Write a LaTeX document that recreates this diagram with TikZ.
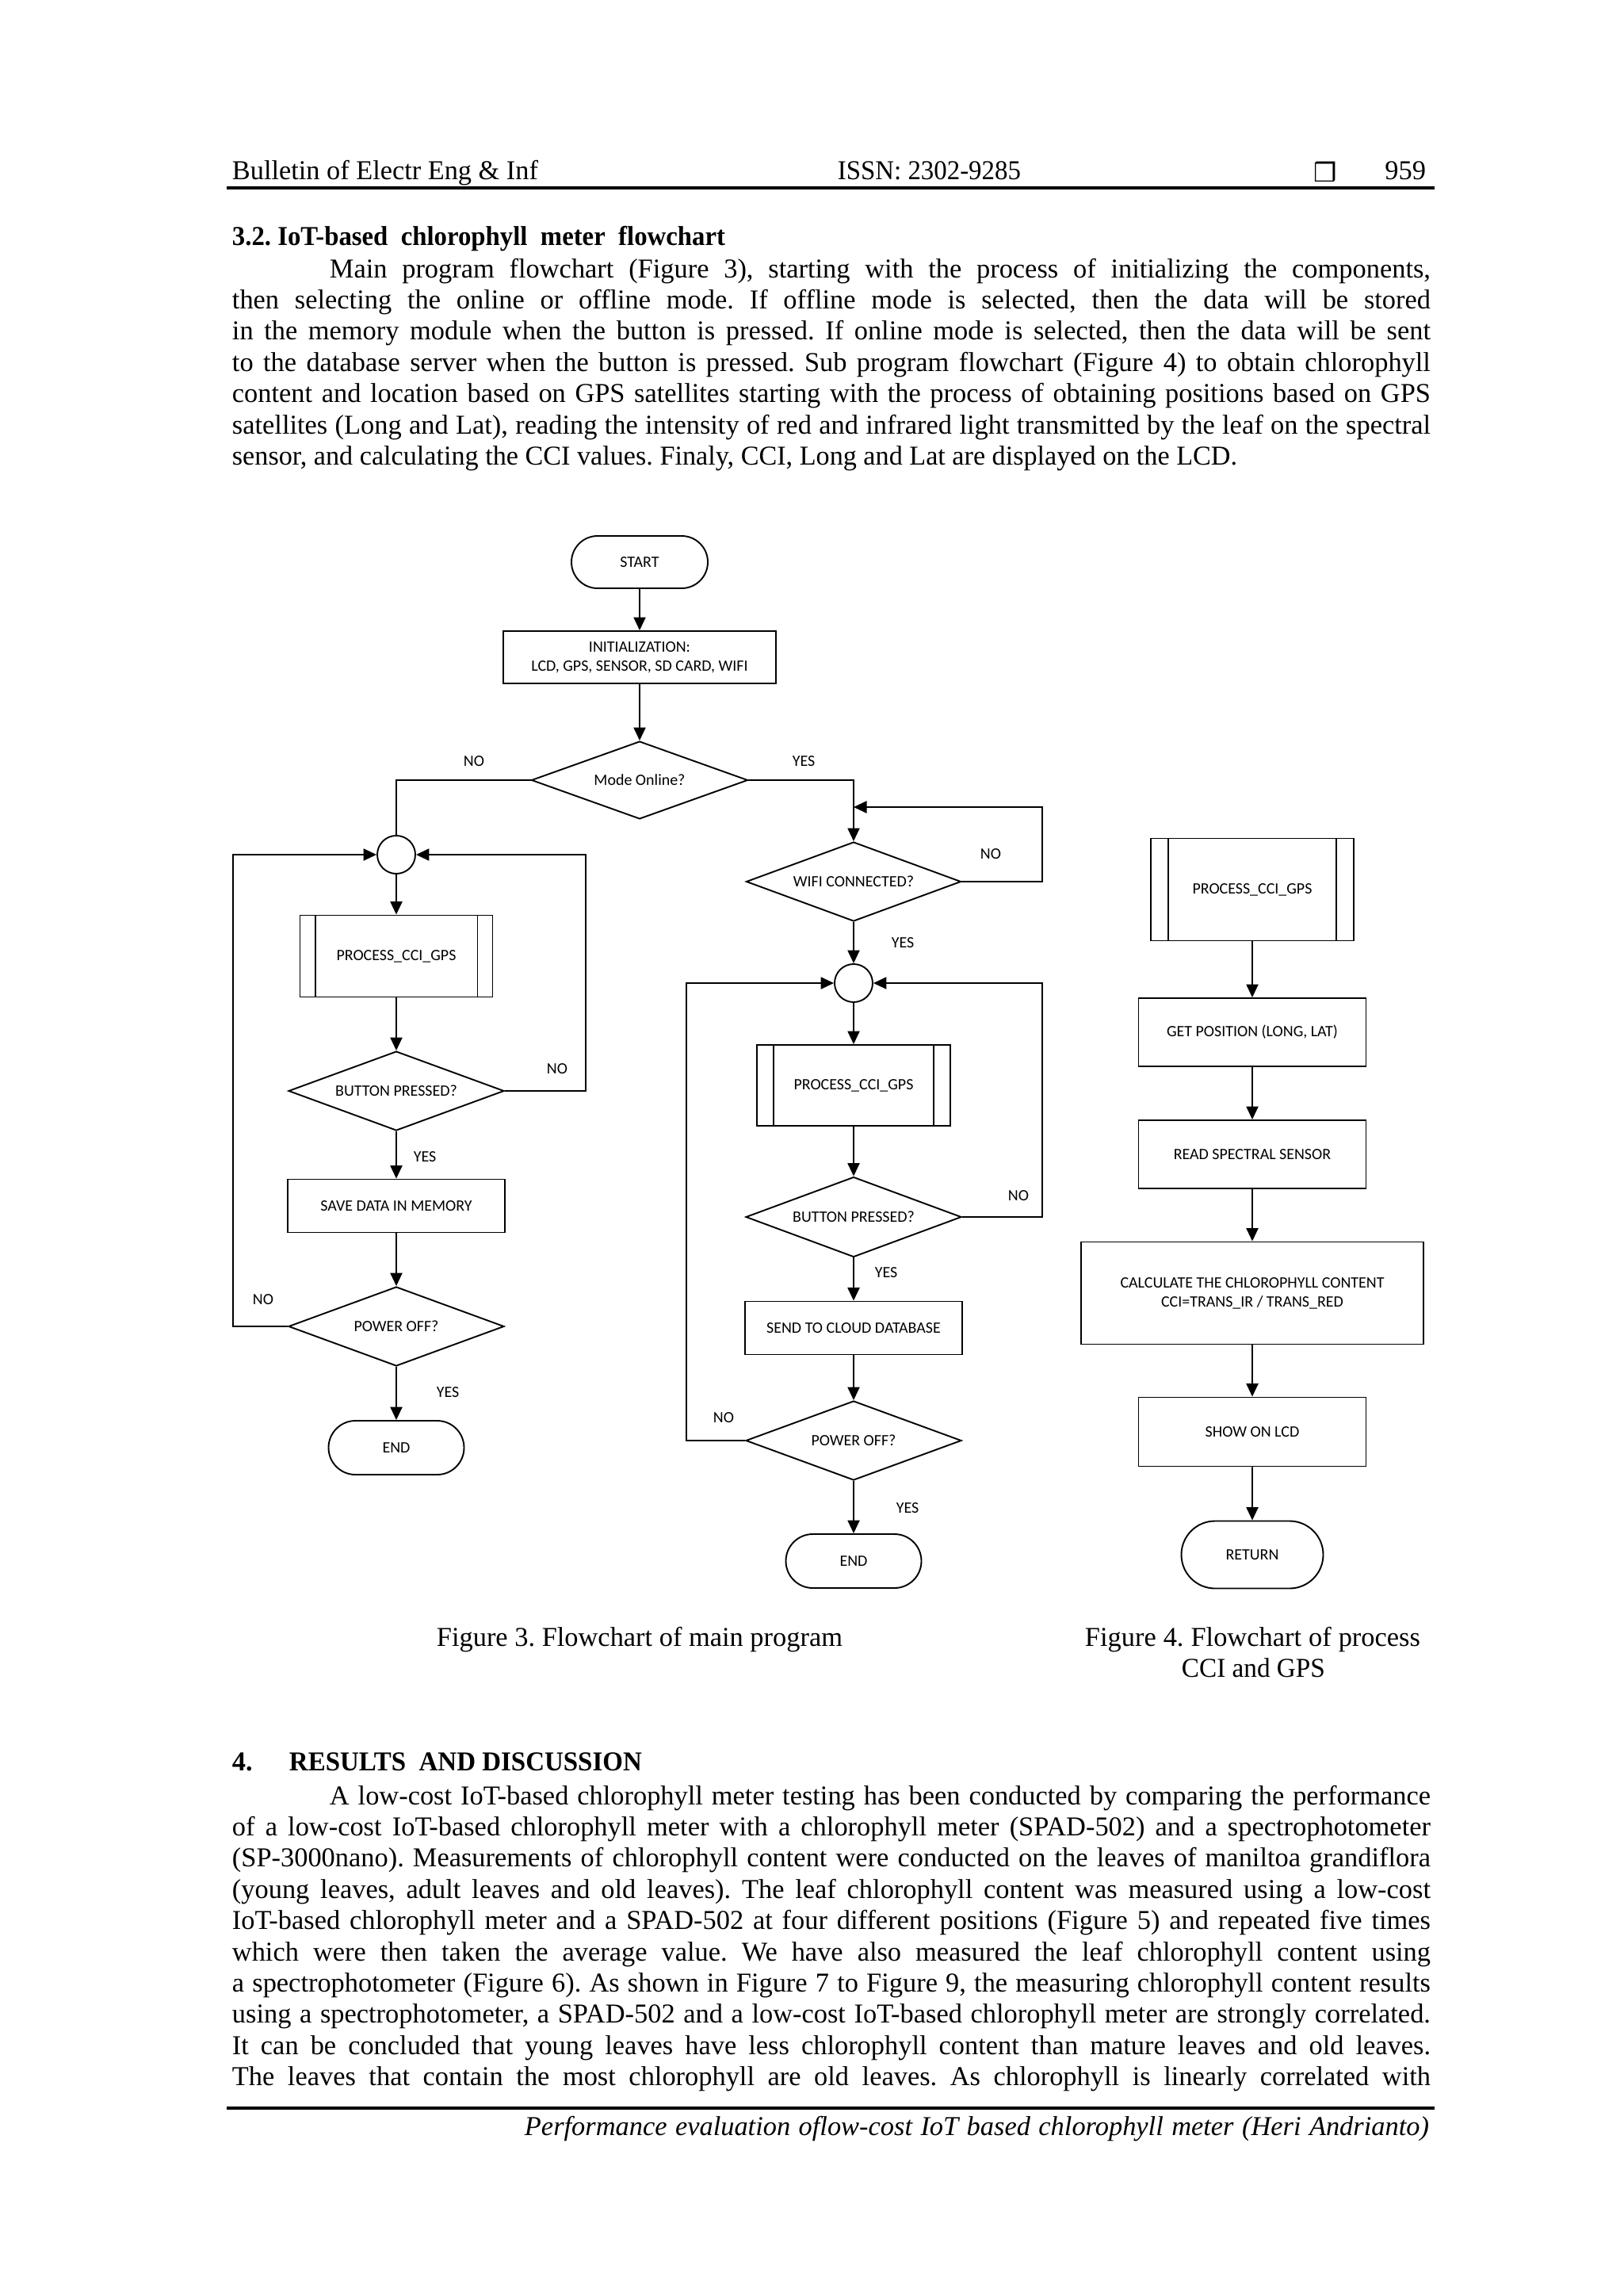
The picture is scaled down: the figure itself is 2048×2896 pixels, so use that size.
\documentclass[tikz,border=0pt]{standalone}
\usepackage{fontspec}
\setmainfont{Liberation Serif}
\newfontfamily\fcfont{Carlito}
\newfontfamily\symfont{DejaVu Sans}
\usepackage{graphicx}
\usetikzlibrary{arrows.meta,shapes.geometric,shapes.misc}
\frenchspacing
\def\pxu{0.29067pt}
\newdimen\pxd \pxd=0.29067pt
\newlength\fitW
\newsavebox\fitbox
\newcommand\fitline[2]{\fitW=#1\pxd\sbox\fitbox{#2}%
  \ifdim\wd\fitbox>\fitW\resizebox{\fitW}{\ht\fitbox}{\usebox\fitbox}\else\makebox[\fitW][s]{#2}\fi}
\tikzset{
 fc/.style={font=\fcfont\fontsize{5.8}{7}\selectfont, inner sep=0pt, align=center},
 box/.style={fc, draw, rectangle},
 term/.style={fc, draw, rounded rectangle},
 dec/.style={fc, draw, diamond, aspect=2.7},
 conn/.style={draw, circle, inner sep=0pt, minimum size=48*\pxu},
 sz/.style 2 args={minimum width=#1*\pxu, minimum height=#2*\pxu},
 arr/.style={-{Triangle[length=4.8pt,width=4.4pt]}},
 lbl/.style={fc},
 txt/.style={inner sep=0pt, font=\fontsize{10}{11.5}\selectfont},
}
\begin{document}
\begin{tikzpicture}[x=\pxu, y=-\pxu, line width=0.55pt]
\useasboundingbox[fill=white] (0,0) rectangle (2048,2896);

% ---------- header ----------
\node[txt, anchor=base west] (h1) at (292,226) {\fitline{386}{Bulletin of Electr Eng \& Inf}};
\node[txt, anchor=base west] (h2) at (1056,226) {\fitline{231}{ISSN: 2302-9285}};
\node[txt, font=\symfont\bfseries\fontsize{9.5}{10}\selectfont] (h3) at (1672,217) {❒};
\node[txt, anchor=base east] (h4) at (1800,226) {959};
\coordinate (hrA) at (286,237); \coordinate (hrB) at (1810,237);
\draw[line width=1.1pt] (hrA) -- (hrB);

% ---------- section 3.2 ----------
\node[txt, anchor=base west, font=\bfseries\fontsize{10}{11.5}\selectfont] (s32) at (292,309) {\fitline{622}{3.2. IoT-based\ \ chlorophyll\ \ meter\ \ flowchart}};
\node[txt, anchor=base west] (pa1) at (415,350) {\fitline{1389}{Main program flowchart (Figure 3), starting with the process of initializing the components,}};
\node[txt, anchor=base west] (pa2) at (292,389.4) {\fitline{1512}{then selecting the online or offline mode. If offline mode is selected, then the data will be stored}};
\node[txt, anchor=base west] (pa3) at (292,428.8) {\fitline{1512}{in the memory module when the button is pressed. If online mode is selected, then the data will be sent}};
\node[txt, anchor=base west] (pa4) at (292,468.2) {\fitline{1512}{to the database server when the button is pressed. Sub program flowchart (Figure 4) to obtain chlorophyll}};
\node[txt, anchor=base west] (pa5) at (292,507.6) {\fitline{1512}{content and location based on GPS satellites starting with the process of obtaining positions based on GPS}};
\node[txt, anchor=base west] (pa6) at (292,547) {\fitline{1512}{satellites (Long and Lat), reading the intensity of red and infrared light transmitted by the leaf on the spectral}};
\node[txt, anchor=base west] (pa7) at (292,586.4) {\fitline{1268}{sensor, and calculating the CCI values. Finaly, CCI, Long and Lat are displayed on the LCD.}};

% ---------- Figure 3 ----------
\node[term, sz={172}{66}] (start) at (807,709) {START};
\node[box, sz={344}{66}] (init) at (807,829) {INITIALIZATION:\\LCD, GPS, SENSOR, SD CARD, WIFI};
\node[dec, sz={273}{98}] (mode) at (807,984) {Mode Online?};
\node[conn] (cl) at (500,1078) {};
\node[box, sz={243}{103}] (pl) at (500,1206) {PROCESS\_CCI\_GPS};
\node[dec, sz={272}{100}] (bl) at (500,1376) {BUTTON PRESSED?};
\node[box, sz={274}{67}] (sl) at (500,1521) {SAVE DATA IN MEMORY};
\node[dec, sz={272}{100}] (ol) at (500,1673) {POWER OFF?};
\node[term, sz={171}{68}] (el) at (500,1826) {END};

\node[dec, sz={271}{100}] (wf) at (1077,1112) {WIFI CONNECTED?};
\node[conn] (cr) at (1077,1240) {};
\node[box, sz={244}{102}] (pr) at (1077,1369) {PROCESS\_CCI\_GPS};
\node[dec, sz={272}{101}] (br) at (1077,1535) {BUTTON PRESSED?};
\node[box, sz={274}{67}] (sr) at (1077,1675) {SEND TO CLOUD DATABASE};
\node[dec, sz={272}{100}] (orr) at (1077,1817) {POWER OFF?};
\node[term, sz={171}{68}] (er) at (1077,1969) {END};

% ---------- Figure 4 ----------
\node[box, sz={256}{129}] (p4) at (1580,1122) {PROCESS\_CCI\_GPS};
\node[box, sz={287}{86}] (gp) at (1580,1302) {GET POSITION (LONG, LAT)};
\node[box, sz={287}{86}] (rs) at (1580,1456) {READ SPECTRAL SENSOR};
\node[box, sz={432}{129}] (cc) at (1580,1631) {CALCULATE THE CHLOROPHYLL CONTENT\\CCI=TRANS\_IR / TRANS\_RED};
\node[box, sz={287}{87}] (sh) at (1580,1806) {SHOW ON LCD};
\node[term, sz={179}{85}] (rt) at (1580,1961) {RETURN};

% inner lines of predefined process boxes
\foreach \n/\o in {pl/20, pr/22, p4/23} {
  \draw ([xshift=\o*\pxu]\n.north west) -- ([xshift=\o*\pxu]\n.south west);
  \draw ([xshift=-\o*\pxu]\n.north east) -- ([xshift=-\o*\pxu]\n.south east);
}

% ---------- connectors fig 3 left ----------
\draw[arr] (start) -- (init);
\draw[arr] (init) -- (mode);
\draw (mode.west) -| (cl.north);
\draw[arr] (cl) -- (pl);
\draw[arr] (pl) -- (bl);
\draw[arr] (bl) -- (sl);
\draw[arr] (sl) -- (ol);
\draw[arr] (ol) -- (el);
\coordinate (blR) at (739,1376); \coordinate (blT) at (739,1078);
\draw[arr] (bl.east) -- (blR) -- (blT) -- (cl.east);
\coordinate (olL) at (294,1673); \coordinate (olT) at (294,1078);
\draw[arr] (ol.west) -- (olL) -- (olT) -- (cl.west);

% ---------- connectors fig 3 right ----------
\draw[arr] (mode.east) -| (wf.north);
\coordinate (wfR) at (1315,1112); \coordinate (wfT) at (1315,1018); \coordinate (wfJ) at (1077,1018);
\draw[arr] (wf.east) -- (wfR) -- (wfT) -- (wfJ);
\draw[arr] (wf) -- (cr);
\draw[arr] (cr) -- (pr);
\draw[arr] (pr) -- (br);
\draw[arr] (br) -- (sr);
\draw[arr] (sr) -- (orr);
\draw[arr] (orr) -- (er);
\coordinate (brR) at (1315,1535); \coordinate (brT) at (1315,1240);
\draw[arr] (br.east) -- (brR) -- (brT) -- (cr.east);
\coordinate (orL) at (866,1817); \coordinate (orT) at (866,1240);
\draw[arr] (orr.west) -- (orL) -- (orT) -- (cr.west);

% ---------- connectors fig 4 ----------
\draw[arr] (p4) -- (gp);
\draw[arr] (gp) -- (rs);
\draw[arr] (rs) -- (cc);
\draw[arr] (cc) -- (sh);
\draw[arr] (sh) -- (rt);

% ---------- labels ----------
\node[lbl] (l1) at (598,960) {NO};
\node[lbl] (l2) at (1014,960) {YES};
\node[lbl] (l3) at (1250,1077) {NO};
\node[lbl] (l4) at (1139,1189) {YES};
\node[lbl] (l5) at (703,1348) {NO};
\node[lbl] (l6) at (536,1459) {YES};
\node[lbl] (l7) at (332,1639) {NO};
\node[lbl] (l8) at (565,1756) {YES};
\node[lbl] (l9) at (1285,1508) {NO};
\node[lbl] (l10) at (1118,1605) {YES};
\node[lbl] (l11) at (913,1788) {NO};
\node[lbl] (l12) at (1145,1902) {YES};

% ---------- captions ----------
\node[txt, anchor=base west] (cap3) at (550,2076) {\fitline{512}{Figure 3. Flowchart of main program}};
\node[txt, anchor=base west] (cap4a) at (1368,2076) {\fitline{423}{Figure 4. Flowchart of process}};
\node[txt, anchor=base west] (cap4b) at (1490,2115) {\fitline{181}{CCI and GPS}};

% ---------- section 4 ----------
\node[txt, anchor=base west, font=\bfseries\fontsize{10}{11.5}\selectfont] (s4n) at (292,2233) {4.};
\node[txt, anchor=base west, font=\bfseries\fontsize{10}{11.5}\selectfont] (s4t) at (364,2233) {\fitline{445}{RESULTS\ \ AND DISCUSSION}};
\node[txt, anchor=base west] (pb1) at (415,2276) {\fitline{1389}{A low-cost IoT-based chlorophyll meter testing has been conducted by comparing the performance}};
\node[txt, anchor=base west] (pb2) at (292,2315.4) {\fitline{1512}{of a low-cost IoT-based chlorophyll meter with a chlorophyll meter (SPAD-502) and a spectrophotometer}};
\node[txt, anchor=base west] (pb3) at (292,2354.8) {\fitline{1512}{(SP-3000nano). Measurements of chlorophyll content were conducted on the leaves of maniltoa grandiflora}};
\node[txt, anchor=base west] (pb4) at (292,2394.2) {\fitline{1512}{(young leaves, adult leaves and old leaves). The leaf chlorophyll content was measured using a low-cost}};
\node[txt, anchor=base west] (pb5) at (292,2433.6) {\fitline{1512}{IoT-based chlorophyll meter and a SPAD-502 at four different positions (Figure 5) and repeated five times}};
\node[txt, anchor=base west] (pb6) at (292,2473) {\fitline{1512}{which were then taken the average value. We have also measured the leaf chlorophyll content using}};
\node[txt, anchor=base west] (pb7) at (292,2512.4) {\fitline{1512}{a spectrophotometer (Figure 6). As shown in Figure 7 to Figure 9, the measuring chlorophyll content results}};
\node[txt, anchor=base west] (pb8) at (292,2551.8) {\fitline{1512}{using a spectrophotometer, a SPAD-502 and a low-cost IoT-based chlorophyll meter are strongly correlated.}};
\node[txt, anchor=base west] (pb9) at (292,2591.2) {\fitline{1512}{It can be concluded that young leaves have less chlorophyll content than mature leaves and old leaves.}};
\node[txt, anchor=base west] (pb10) at (292,2630.6) {\fitline{1512}{The leaves that contain the most chlorophyll are old leaves. As chlorophyll is linearly correlated with}};

% ---------- footer ----------
\coordinate (frA) at (286,2659); \coordinate (frB) at (1810,2659);
\draw[line width=1.1pt] (frA) -- (frB);
\node[txt, anchor=base west, font=\itshape\fontsize{10}{11.5}\selectfont] (foot) at (661,2693) {\fitline{1141}{Performance evaluation oflow-cost IoT based chlorophyll meter (Heri Andrianto)}};
\end{tikzpicture}
\end{document}
